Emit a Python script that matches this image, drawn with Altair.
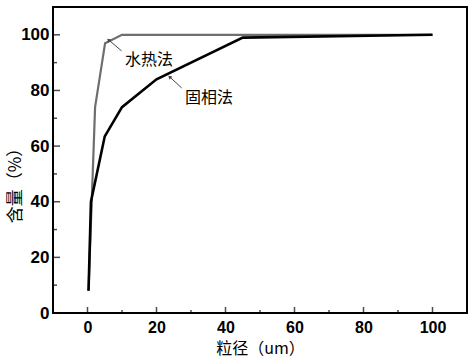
import altair as alt
import pandas as pd

# data
hydro_x = [0.3, 2.2, 5.1, 10, 100]
hydro_y = [8, 74, 97, 100, 100]
solid_x = [0.3, 1.0, 5.0, 10, 20, 45, 100]
solid_y = [8, 40, 63.5, 74, 84, 99, 100]

major_x = [0, 20, 40, 60, 80, 100]
minor_x = [10, 30, 50, 70, 90]
major_y = [0, 20, 40, 60, 80, 100]
minor_y = [10, 30, 50, 70, 90]

labels = ["水热法", "固相法"]
label_x = [17.8, 35.2]
label_y = [91, 77.3]
arrow_x1 = [9.9, 27.3]
arrow_y1 = [94.2, 80.9]
arrow_x2 = [6.1, 23.8]
arrow_y2 = [98.2, 84.9]

CJK = "Noto Sans CJK SC"
NUM = "Liberation Sans"

xs = alt.Scale(domain=[-10, 110], nice=False, zero=False)
ys = alt.Scale(domain=[0, 110], nice=False)

hydro = pd.DataFrame({"x": hydro_x, "y": hydro_y})
solid = pd.DataFrame({"x": solid_x, "y": solid_y})

base_x = alt.X("x:Q", scale=xs, title="粒径（um）",
               axis=alt.Axis(values=major_x, grid=False, domain=False, ticks=False,
                             labelFont=NUM, labelFontWeight="bold", labelFontSize=16,
                             labelColor="black", labelPadding=6,
                             titleFont=CJK, titleFontSize=16, titleFontWeight="normal",
                             titleColor="black", titlePadding=5))
base_y = alt.Y("y:Q", scale=ys, title="含量（%）",
               axis=alt.Axis(values=major_y, grid=False, domain=False, ticks=False,
                             labelFont=NUM, labelFontWeight="bold", labelFontSize=17,
                             labelColor="black", labelPadding=4,
                             titleFont=CJK, titleFontSize=17, titleFontWeight="normal",
                             titleColor="black", titleX=-38, titleY=174,
                             titleBaseline="middle"))

l_hydro = alt.Chart(hydro).mark_line(color="#6e6e6e", strokeWidth=2.2).encode(x=base_x, y=base_y)
l_solid = alt.Chart(solid).mark_line(color="black", strokeWidth=2.6).encode(
    x=alt.X("x:Q", scale=xs), y=alt.Y("y:Q", scale=ys))

tx_major = alt.Chart(pd.DataFrame({"x": major_x})).mark_tick(
    orient="vertical", size=6, thickness=1.5, color="black").encode(
    x=alt.X("x:Q", scale=xs), y=alt.value(303))
tx_minor = alt.Chart(pd.DataFrame({"x": minor_x})).mark_tick(
    orient="vertical", size=3, thickness=1.5, color="black").encode(
    x=alt.X("x:Q", scale=xs), y=alt.value(304.5))
ty_major = alt.Chart(pd.DataFrame({"y": major_y})).mark_tick(
    orient="horizontal", size=7, thickness=1.5, color="black").encode(
    y=alt.Y("y:Q", scale=ys), x=alt.value(3.5))
ty_minor = alt.Chart(pd.DataFrame({"y": minor_y})).mark_tick(
    orient="horizontal", size=4, thickness=1.5, color="black").encode(
    y=alt.Y("y:Q", scale=ys), x=alt.value(2))

ann = pd.DataFrame({"t": labels, "x": label_x, "y": label_y,
                    "x1": arrow_x1, "y1": arrow_y1, "x2": arrow_x2, "y2": arrow_y2})
texts = alt.Chart(ann).mark_text(font=CJK, fontSize=16, color="black").encode(
    x=alt.X("x:Q", scale=xs), y=alt.Y("y:Q", scale=ys), text="t:N")
arrows = alt.Chart(ann).mark_rule(color="#444444", strokeWidth=1).encode(
    x=alt.X("x1:Q", scale=xs), y=alt.Y("y1:Q", scale=ys), x2="x2:Q", y2="y2:Q")
heads = alt.Chart(ann).mark_point(shape="triangle-up", filled=True, size=18,
                                  color="#444444", opacity=1, angle=310).encode(
    x=alt.X("x2:Q", scale=xs), y=alt.Y("y2:Q", scale=ys))

chart = alt.layer(l_hydro, l_solid, tx_major, tx_minor, ty_major, ty_minor,
                  arrows, heads, texts).properties(
    width=414, height=306,
    background="white",
    autosize=alt.AutoSizeParams(type="none"),
    padding={"left": 53, "top": 7, "right": 7, "bottom": 45},
).configure_view(stroke="black", strokeWidth=2)

chart.save("out.html", embed_options={"renderer": "svg", "actions": False})
